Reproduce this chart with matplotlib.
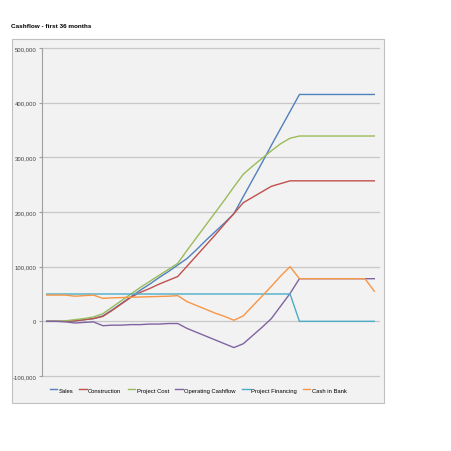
import matplotlib.pyplot as plt
from matplotlib.patches import Rectangle
import numpy as np

plt.rcParams['font.family'] = ['Liberation Sans', 'DejaVu Sans']

# months 1..36
months = np.arange(36)

sales = [0, 0, 0, 1, 3, 5, 10, 21, 33, 45, 57, 68, 80, 91, 103, 115,
         131, 148, 164, 180, 197, 228, 259, 290, 322, 353, 384, 415,
         415, 415, 415, 415, 415, 415, 415, 415]
construction = [0, 0, 0, 1, 3, 5, 9, 20, 32, 44, 53, 60, 68, 75, 82, 101,
                120, 139, 158, 178, 197, 217, 227, 237, 247, 252, 257, 257,
                257, 257, 257, 257, 257, 257, 257, 257]
project_cost = [0, 0, 1, 3, 5, 8, 14, 26, 38, 50, 62, 73, 84, 95, 106, 130,
                153, 176, 199, 222, 246, 269, 284, 298, 312, 325, 335, 339,
                339, 339, 339, 339, 339, 339, 339, 339]
operating_cf = [0, 0, -1, -3, -2, -1, -8, -7, -7, -6, -6, -5, -5, -4, -4, -13,
                -20, -27, -34, -41, -48, -41, -26, -11, 5, 28, 51, 78,
                78, 78, 78, 78, 78, 78, 78, 78]
project_fin = [50] * 27 + [0] * 9
cash_in_bank = [48, 48, 48, 46, 47, 48, 42, 43, 43.5, 44, 44.5, 45, 45.5, 46, 47, 36,
                29, 22, 15, 9, 2, 10, 28, 46, 64, 83, 100, 78,
                78, 78, 78, 78, 78, 78, 78, 55]

series = [
    ('Sales', sales, '#4F81BD'),
    ('Construction', construction, '#C0504D'),
    ('Project Cost', project_cost, '#9BBB59'),
    ('Operating Cashflow', operating_cf, '#8064A2'),
    ('Project Financing', project_fin, '#4BACC6'),
    ('Cash in Bank', cash_in_bank, '#F79646'),
]

fig = plt.figure(figsize=(4.52, 4.52), dpi=100)
fig.patch.set_facecolor('white')

# chart area box
fig.patches.append(Rectangle((12 / 452, 1 - 404 / 452), 372 / 452, 364 / 452,
                             transform=fig.transFigure, facecolor='#f2f2f2',
                             edgecolor='#bfbfbf', linewidth=0.8, zorder=-5))

fig.text(11 / 452, 1 - 26 / 452, 'Cashflow - first 36 months', fontsize=4.6,
         fontweight='bold', va='center', ha='left')

ax = fig.add_axes([42 / 452, 75 / 452, 337 / 452, 328 / 452])
ax.set_zorder(2)
ax.set_facecolor('#f2f2f2')

for name, vals, col in series:
    ax.plot(months, np.array(vals) * 1000, color=col, lw=1.0, label=name)

ax.set_xlim(-0.5, 35.5)
ax.set_ylim(-100000, 500000)
ax.set_yticks(np.arange(-100000, 500001, 100000))
ax.set_yticklabels([f'{v:,}' for v in range(-100000, 500001, 100000)])
ax.tick_params(axis='y', labelsize=4.3, length=2, color='#a0a0a0', labelcolor='#404040', pad=2)
ax.set_xticks([])
ax.yaxis.grid(True, color='#c8c8c8', lw=0.9)
for gl in ax.get_ygridlines():
    gl.set_clip_on(False)
ax.set_axisbelow(True)
for s in ['top', 'right', 'bottom']:
    ax.spines[s].set_visible(False)
ax.spines['left'].set_color('#a0a0a0')
ax.spines['left'].set_linewidth(0.8)

fig.legend(loc='center', bbox_to_anchor=(198 / 452, 1 - 391 / 452), ncol=6,
           frameon=False, fontsize=4.2, handlelength=1.3, handletextpad=0.2,
           columnspacing=1.1)

plt.savefig('out.png', dpi=100)
